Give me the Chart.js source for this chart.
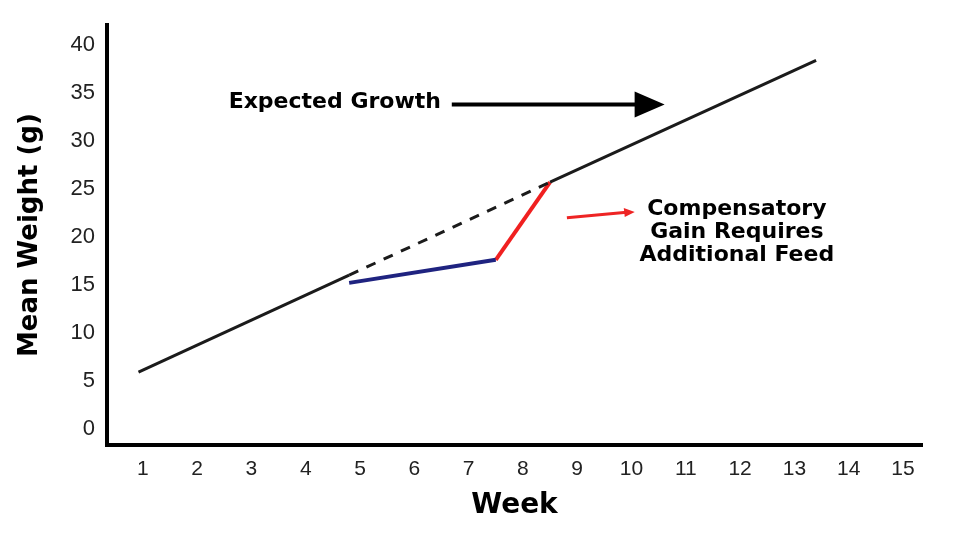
<!DOCTYPE html>
<html>
<head>
<meta charset="utf-8">
<script src="https://cdn.jsdelivr.net/npm/chart.js@4.4.0/dist/chart.umd.min.js"></script>
<style>body{margin:0;background:#fff}</style>
</head>
<body>
<canvas id="growthChart" width="960" height="540"></canvas>
<script>
// tick labels
var weekTicks = [1, 2, 3, 4, 5, 6, 7, 8, 9, 10, 11, 12, 13, 14, 15];
var weightTicks = [0, 5, 10, 15, 20, 25, 30, 35, 40];

// expected growth (middle piece drawn dashed)
var expectedWeek = [0.92, 4.8, 8.5, 13.4];
var expectedWeight = [5.9, 16.0, 25.7, 38.4];

// restricted feeding, then compensatory gain
var restrictedWeek = [4.8, 7.5];
var restrictedWeight = [15.2, 17.6];
var compensatoryWeek = [7.5, 8.5];
var compensatoryWeight = [17.6, 25.7];

function pts(xs, ys) {
  return xs.map(function (x, i) { return {x: x, y: ys[i]}; });
}

var boldFont = "'DejaVu Sans', sans-serif";

// text + arrows, placed in data units
var notes = {
  id: 'notes',
  afterDatasetsDraw: function (chart) {
    var ctx = chart.ctx, x = chart.scales.x, y = chart.scales.y;
    ctx.save();
    ctx.fillStyle = '#000';
    ctx.font = 'bold 22px ' + boldFont;
    ctx.textAlign = 'left';
    ctx.textBaseline = 'middle';
    ctx.fillText('Expected Growth', x.getPixelForValue(2.58), y.getPixelForValue(34.0));

    // black arrow
    var ax0 = x.getPixelForValue(6.69), ax1 = x.getPixelForValue(10.61), ay = y.getPixelForValue(33.8);
    ctx.strokeStyle = '#000';
    ctx.lineWidth = 4;
    ctx.beginPath();
    ctx.moveTo(ax0, ay);
    ctx.lineTo(ax1 - 20, ay);
    ctx.stroke();
    ctx.beginPath();
    ctx.moveTo(ax1, ay);
    ctx.lineTo(ax1 - 30, ay - 13);
    ctx.lineTo(ax1 - 30, ay + 13);
    ctx.closePath();
    ctx.fill();

    // red arrow
    var rx0 = x.getPixelForValue(8.81), ry0 = y.getPixelForValue(22.0);
    var rx1 = x.getPixelForValue(10.06), ry1 = y.getPixelForValue(22.6);
    ctx.strokeStyle = '#ee2424';
    ctx.fillStyle = '#ee2424';
    ctx.lineWidth = 3;
    ctx.beginPath();
    ctx.moveTo(rx0, ry0);
    ctx.lineTo(rx1 - 8, ry1 + 0.4);
    ctx.stroke();
    ctx.beginPath();
    ctx.moveTo(rx1, ry1);
    ctx.lineTo(rx1 - 11, ry1 - 4);
    ctx.lineTo(rx1 - 10, ry1 + 5);
    ctx.closePath();
    ctx.fill();

    ctx.fillStyle = '#000';
    ctx.font = 'bold 22px ' + boldFont;
    ctx.textAlign = 'center';
    var cx = x.getPixelForValue(11.94);
    ctx.fillText('Compensatory', cx, y.getPixelForValue(22.9));
    ctx.fillText('Gain Requires', cx, y.getPixelForValue(20.5));
    ctx.fillText('Additional Feed', cx, y.getPixelForValue(18.1));
    ctx.restore();
  }
};

var ctx = document.getElementById('growthChart').getContext('2d');
var chart = new Chart(ctx, {
  type: 'line',
  data: {
    datasets: [
      {
        data: pts(expectedWeek, expectedWeight),
        borderColor: '#1b1b1b',
        borderWidth: 3,
        pointRadius: 0,
        segment: {
          borderDash: function (c) { return c.p0DataIndex === 1 ? [10, 9] : undefined; }
        }
      },
      {
        data: pts(restrictedWeek, restrictedWeight),
        borderColor: '#1f2380',
        borderWidth: 4,
        pointRadius: 0
      },
      {
        data: pts(compensatoryWeek, compensatoryWeight),
        borderColor: '#f02020',
        borderWidth: 4,
        pointRadius: 0
      }
    ]
  },
  options: {
    responsive: false,
    animation: false,
    layout: {padding: {top: 20, right: 38, left: 0, bottom: 0}},
    plugins: {legend: {display: false}, tooltip: {enabled: false}},
    scales: {
      x: {
        type: 'linear',
        min: 0.34,
        max: 15.35,
        grid: {display: false, drawTicks: false},
        border: {color: '#000', width: 4},
        afterBuildTicks: function (s) { s.ticks = weekTicks.map(function (v) { return {value: v}; }); },
        ticks: {padding: 12, color: '#222', font: {family: "'Liberation Sans Narrow', 'Liberation Sans', sans-serif", size: 21}},
        title: {display: true, text: 'Week', color: '#000', font: {family: boldFont, size: 28, weight: 'bold'}, padding: {top: 0, bottom: 17}},
        afterFit: function (s) { s.height = 95; }
      },
      y: {
        type: 'linear',
        min: -1.71,
        max: 42.07,
        grid: {display: false, drawTicks: false},
        border: {color: '#000', width: 4},
        afterBuildTicks: function (s) { s.ticks = weightTicks.map(function (v) { return {value: v}; }); },
        ticks: {padding: 12, color: '#222', font: {family: "'Liberation Sans', sans-serif", size: 22}},
        title: {display: true, text: 'Mean Weight (g)', color: '#000', font: {family: boldFont, size: 26, weight: 'bold'}, padding: {top: 15, bottom: 0}},
        afterFit: function (s) { s.width = 107; }
      }
    }
  },
  plugins: [notes]
});
</script>
</body>
</html>
